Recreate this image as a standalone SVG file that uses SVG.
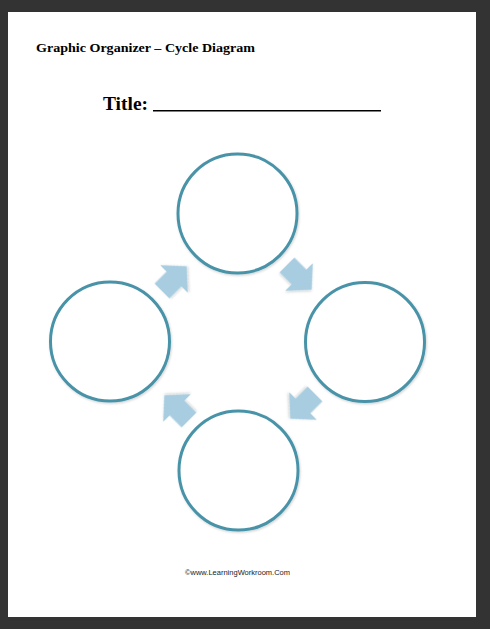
<svg xmlns="http://www.w3.org/2000/svg" width="490" height="629" viewBox="0 0 490 629">
  <defs>
    <style>
      .ring { fill: #ffffff; stroke: #4a93a8; stroke-width: 3; filter: url(#soft); }
      .arrow { fill: #a8cde0; filter: url(#soft); }
      .serif { font-family: "Liberation Serif", "DejaVu Serif", serif; font-weight: bold; fill: #000000; }
      .foot { font-family: "Liberation Sans", "DejaVu Sans", sans-serif; font-size: 7.5px; fill: #222222; }
    </style>
    <filter id="soft" x="-20%" y="-20%" width="140%" height="140%">
      <feDropShadow dx="0.8" dy="1.2" stdDeviation="1" flood-color="#000000" flood-opacity="0.18"/>
    </filter>
    <path id="blockArrow" d="M-17,-10.5 L0,-10.5 L0,-19.5 L18,0 L0,19.5 L0,10.5 L-17,10.5 Z"/>
  </defs>

  <rect x="0" y="0" width="490" height="629" fill="#333333"/>
  <rect x="8" y="12" width="468" height="605" fill="#ffffff"/>

  <g id="header">
    <text class="serif" x="36" y="52" font-size="12.5" textLength="219" lengthAdjust="spacingAndGlyphs">Graphic Organizer – Cycle Diagram</text>
    <text class="serif" x="103" y="110" font-size="18" textLength="45" lengthAdjust="spacingAndGlyphs">Title:</text>
    <line x1="153" y1="110.8" x2="381" y2="110.8" stroke="#000000" stroke-width="1.4"/>
  </g>

  <g id="connectors">
    <use href="#blockArrow" class="arrow" transform="translate(174,279) rotate(-45)"/>
    <use href="#blockArrow" class="arrow" transform="translate(299,277) rotate(45)"/>
    <use href="#blockArrow" class="arrow" transform="translate(303,406) rotate(135)"/>
    <use href="#blockArrow" class="arrow" transform="translate(177,408) rotate(-135)"/>
  </g>

  <g id="node-top"><circle class="ring" cx="237.5" cy="213.5" r="59.5"/></g>
  <g id="node-right"><circle class="ring" cx="365" cy="342" r="59.5"/></g>
  <g id="node-bottom"><circle class="ring" cx="238.5" cy="470.5" r="59.5"/></g>
  <g id="node-left"><circle class="ring" cx="110" cy="341.5" r="59.5"/></g>

  <g id="footer">
    <text class="foot" x="185" y="575" textLength="105" lengthAdjust="spacingAndGlyphs">©www.LearningWorkroom.Com</text>
  </g>
</svg>
